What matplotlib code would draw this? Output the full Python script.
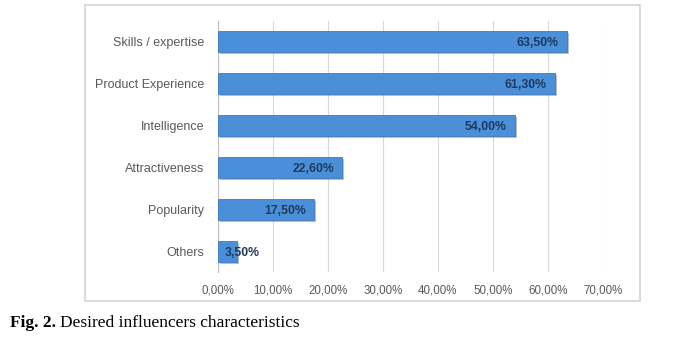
import matplotlib.pyplot as plt
import matplotlib.patheffects as pe
from matplotlib.patches import Rectangle

# influencer traits, shares in percent
categories = ["Skills / expertise", "Product Experience", "Intelligence",
              "Attractiveness", "Popularity", "Others"]
shares = [63.5, 61.3, 54.0, 22.6, 17.5, 3.5]
xticks = [0, 10, 20, 30, 40, 50, 60, 70]


def pct(v):
    # comma decimal, two places
    return f"{v:.2f}%".replace(".", ",")


fig = plt.figure(figsize=(6.81, 3.43), dpi=100)
ax = fig.add_axes([0.320, 0.207, 0.565, 0.732])

# outer chart frame
fig.patches.append(Rectangle((85 / 681, 1 - 301 / 343), 555 / 681, 296 / 343,
                             transform=fig.transFigure, fill=False,
                             edgecolor="#d4d4d4", linewidth=1.2))

pos = list(range(len(categories)))[::-1]
bars = ax.barh(pos, shares, height=0.5, color="#4a8fd8", edgecolor="#3d7cc4",
               linewidth=0.6, zorder=3)
for b in bars:
    b.set_path_effects([pe.SimplePatchShadow(offset=(1.5, -1.5), alpha=0.3),
                        pe.Normal()])

for y, v in zip(pos, shares):
    # short bars get the label from the base, others at the inner end
    if v < 10:
        x, ha = 1.3, "left"
    else:
        x, ha = v - 1.5, "right"
    ax.text(x, y, pct(v), ha=ha, va="center_baseline", fontsize=8.8,
            fontweight="bold", color="#1f3a5f", zorder=4,
            family="Liberation Sans")

ax.set_xlim(0, 70)
ax.set_ylim(-0.5, len(categories) - 0.5)
ax.set_xticks(xticks)
ax.set_xticklabels([pct(t) for t in xticks], family="Liberation Sans",
                   fontsize=8.3, color="#595959")
ax.set_yticks(pos)
ax.set_yticklabels(categories, family="Liberation Sans", fontsize=9,
                   color="#595959")
ax.tick_params(length=0, pad=10)
ax.tick_params(axis="x", pad=9)

ax.grid(axis="x", color="#d9d9d9", linewidth=0.8, zorder=0)
for s in ["top", "right", "bottom"]:
    ax.spines[s].set_visible(False)
ax.spines["left"].set_color("#bfbfbf")
ax.spines["left"].set_linewidth(0.8)

# caption below the frame: bold figure number, then plain title
cap_y = 1 - 323 / 343
cap_bold = fig.text(10 / 681, cap_y, "Fig. 2.", fontsize=12.5,
                    family="Liberation Serif", fontweight="bold",
                    va="center", ha="left")
fig.canvas.draw()
bb = cap_bold.get_window_extent()
fig.text((bb.x1 + 4) / 681, cap_y, "Desired influencers characteristics",
         fontsize=12.5, family="Liberation Serif", va="center", ha="left")

fig.savefig("out.png", dpi=100)
